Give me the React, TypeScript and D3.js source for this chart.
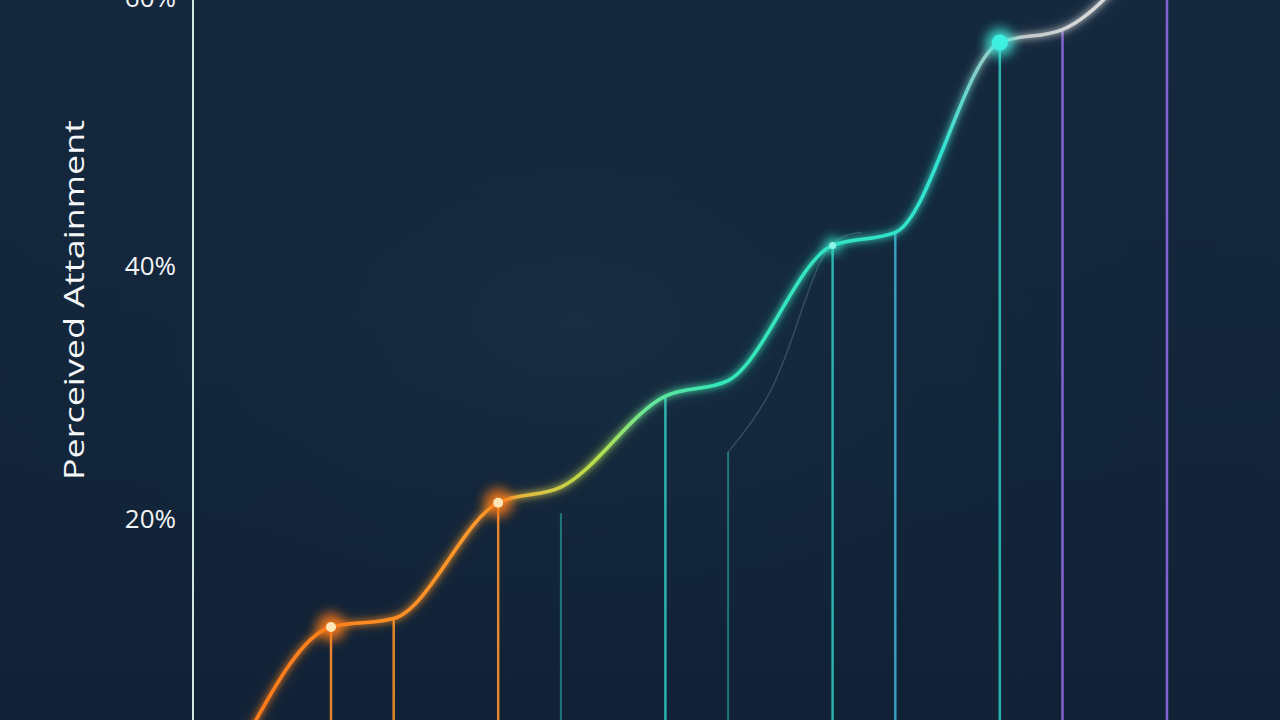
import React from "react";
import * as d3 from "d3";

// ---- data ----
const weeks = [-4, 0, 3, 8, 11, 16, 19, 24, 27, 32, 35, 40];
const attainment = [3.5, 11.85, 12.5, 21.4, 22.6, 29.6, 30.8, 41.2, 42.2, 56.8, 57.8, 66];
const markerWeeks = [0, 3, 8, 11, 16, 19, 24, 27, 32, 35, 40];
const markerTops = [11.85, 12.5, 21.4, 20.6, 29.6, 25.3, 41.2, 42.2, 56.8, 57.8, 66];
const faintMarkers = [11, 19];
const highlightWeeks = [0, 8, 24, 32];
const ghostWeeks = [19, 21, 22.2, 23.4, 24.4, 25.4];
const ghostValues = [25.3, 29.3, 34.6, 40.5, 42.0, 42.2];
const yTicks = [20, 40, 60];
const yLabel = "Perceived Attainment";

const W = 1280;
const H = 720;

export default function App() {
  const x = d3.scaleLinear().domain([0, 40]).range([331, 1167]);
  const y = d3.scaleLinear().domain([40, 60]).range([261, 1]);

  const pts: [number, number][] = weeks.map((w, i) => [w, attainment[i]]);
  const line = d3
    .line<[number, number]>()
    .x((d) => x(d[0]))
    .y((d) => y(d[1]))
    .curve(d3.curveMonotoneX);
  const path = line(pts) || "";
  const ghostPath =
    d3
      .line<number>()
      .x((d) => x(d))
      .y((_, i) => y(ghostValues[i]))
      .curve(d3.curveBasis)(ghostWeeks) || "";

  const dropColor = (w: number) =>
    w < 10 ? "#f08a2c" : w < 34 ? (w === 27 ? "#3aa6c4" : "#2cbcb4") : "#8a66dc";

  const valueAt = (w: number) => attainment[weeks.indexOf(w)];
  const hlColor = (w: number) => (w < 10 ? "#ff7a14" : w < 30 ? "#38e0c8" : "#3ef0e0");

  return (
    <svg
      width={W}
      height={H}
      style={{ position: "fixed", left: 0, top: 0, display: "block" }}
      fontFamily="'Open Sans', Lato, sans-serif"
    >
      <defs>
        <linearGradient id="bg" x1="0" y1="0" x2="0" y2="1">
          <stop offset="0" stopColor="#15293e" />
          <stop offset="1" stopColor="#112237" />
        </linearGradient>
        <radialGradient id="bgGlow" cx="0.45" cy="0.45" r="0.6">
          <stop offset="0" stopColor="#1a3248" stopOpacity="0.6" />
          <stop offset="1" stopColor="#0f1f32" stopOpacity="0" />
        </radialGradient>
        <linearGradient id="lineGrad" gradientUnits="userSpaceOnUse" x1={x(-4)} y1="0" x2={x(36)} y2="0">
          <stop offset="0" stopColor="#ff7a1a" />
          <stop offset="0.28" stopColor="#ff9a2a" />
          <stop offset="0.35" stopColor="#d9c444" />
          <stop offset="0.42" stopColor="#b6e04c" />
          <stop offset="0.48" stopColor="#66e69a" />
          <stop offset="0.56" stopColor="#36e8b6" />
          <stop offset="0.83" stopColor="#30e2d0" />
          <stop offset="0.9" stopColor="#b8c4c4" />
          <stop offset="1" stopColor="#d8d8d8" />
        </linearGradient>
        <filter id="glow" x="-20%" y="-20%" width="140%" height="140%">
          <feGaussianBlur stdDeviation="3" result="b" />
          <feMerge>
            <feMergeNode in="b" />
            <feMergeNode in="SourceGraphic" />
          </feMerge>
        </filter>
        <filter id="bigGlow" x="-200%" y="-200%" width="500%" height="500%">
          <feGaussianBlur stdDeviation="6" />
        </filter>
      </defs>

      <rect width={W} height={H} fill="url(#bg)" />
      <rect width={W} height={H} fill="url(#bgGlow)" />

      {/* y axis */}
      <line x1={193} x2={193} y1={0} y2={H} stroke="#cfe8e2" strokeWidth={2} />
      {yTicks.map((t) => (
        <text
          key={t}
          x={176}
          y={y(t) + (t === 60 ? -3 : t === 40 ? 5 : -2)}
          dy="0.35em"
          textAnchor="end"
          fill="#f2f4f6"
          fontSize={26}
        >
          {t}%
        </text>
      ))}
      <text
        transform={`translate(84,300) rotate(-90)`}
        textAnchor="middle"
        fill="#f4f6f8"
        fontSize={28}
        textLength={360}
        lengthAdjust="spacingAndGlyphs"
      >
        {yLabel}
      </text>

      {/* drop lines */}
      {markerWeeks.map((w, i) => {
        const faint = faintMarkers.includes(w);
        return (
          <line
            key={w}
            x1={x(w)}
            x2={x(w)}
            y1={Math.max(0, y(markerTops[i]))}
            y2={H}
            stroke={dropColor(w)}
            strokeWidth={faint ? 2 : 2.5}
            strokeOpacity={faint ? 0.55 : 0.95}
          />
        );
      })}

      {/* ghost trace */}
      <path d={ghostPath} fill="none" stroke="#9fb4c0" strokeOpacity={0.25} strokeWidth={1.5} />

      {/* main line */}
      <path d={path} fill="none" stroke="url(#lineGrad)" strokeWidth={7} strokeOpacity={0.25} filter="url(#bigGlow)" />
      <path d={path} fill="none" stroke="url(#lineGrad)" strokeWidth={3.5} filter="url(#glow)" />

      {/* highlights */}
      {highlightWeeks.map((w) => {
        const cx = x(w);
        const cy = y(valueAt(w));
        const big = w === 32;
        const small = w === 24;
        return (
          <g key={w}>
            <circle cx={cx} cy={cy} r={small ? 8 : 14} fill={hlColor(w)} opacity={0.85} filter="url(#bigGlow)" />
            {big ? (
              <circle cx={cx} cy={cy} r={8} fill="#3ef0e2" />
            ) : (
              <circle cx={cx} cy={cy} r={small ? 3.5 : 5} fill={small ? "#8ff5e6" : "#ffe6b8"} />
            )}
          </g>
        );
      })}
    </svg>
  );
}
